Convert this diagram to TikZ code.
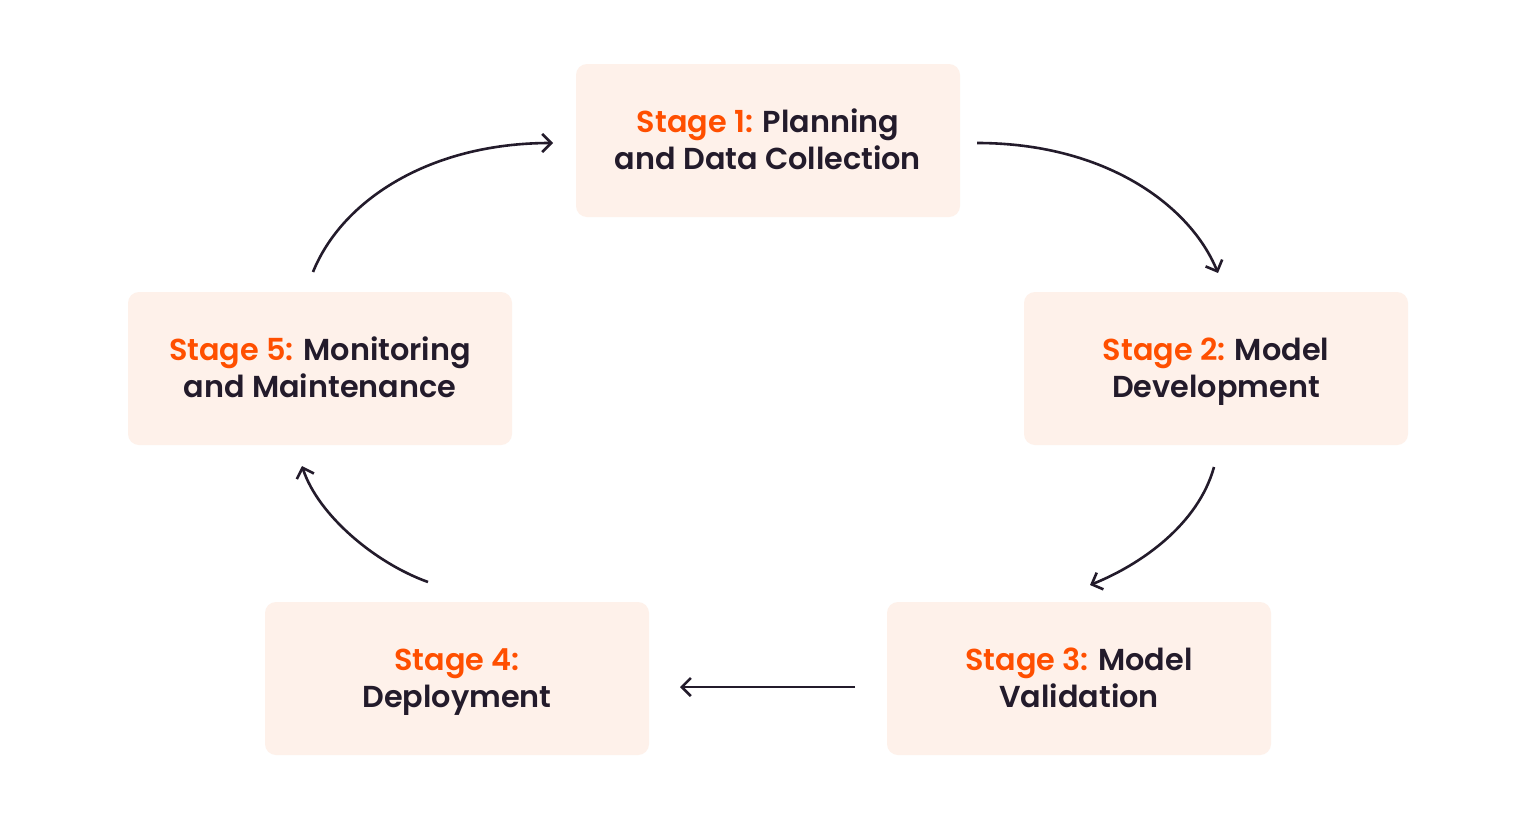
\documentclass[tikz,border=0pt]{standalone}
\usepackage{fontspec}
\setmainfont{Poppins}[UprightFont=* SemiBold]
\usetikzlibrary{arrows.meta}
\definecolor{boxfill}{HTML}{FEF1EA}
\definecolor{stageor}{HTML}{FF4F00}
\definecolor{inkdark}{HTML}{231B2B}
\tikzset{
  stagebox/.style={fill=boxfill, draw=none, rounded corners=11pt, minimum width=384pt, minimum height=153pt},
  stagetext/.style={align=center, text=inkdark, font=\fontsize{30.3}{37}\selectfont, inner sep=0pt, yshift=-3.5pt},
  flow/.style={draw=inkdark, line width=2.6pt, -{Straight Barb[length=9pt,width=18pt,line width=2.6pt]}}
}
\newcommand{\stg}[1]{\textcolor{stageor}{#1}}
\newcommand{\twol}[2]{\strut #1\\\strut #2}
\begin{document}
\begin{tikzpicture}[x=1pt,y=-1pt]
\fill[white] (0,0) rectangle (1536,817);
\useasboundingbox (0,0) rectangle (1536,817);
\node[stagebox] (s1) at (768,140.5) {};
\node[stagebox] (s2) at (1216,368.5) {};
\node[stagebox] (s3) at (1079,678.5) {};
\node[stagebox] (s4) at (457,678.5) {};
\node[stagebox] (s5) at (320,368.5) {};
\node[stagetext] (t1) at (s1.center) {\twol{\stg{Stage 1:} Planning}{and Data Collection}};
\node[stagetext] (t2) at (s2.center) {\twol{\stg{Stage 2:} Model}{Development}};
\node[stagetext] (t3) at (s3.center) {\twol{\stg{Stage 3:} Model}{Validation}};
\node[stagetext] (t4) at (s4.center) {\twol{\stg{Stage 4:}}{Deployment}};
\node[stagetext] (t5) at (s5.center) {\twol{\stg{Stage 5:} Monitoring}{and Maintenance}};
\coordinate (a1s) at (977,143); \coordinate (a1e) at (1218,273);
\coordinate (a2s) at (1214,467); \coordinate (a2e) at (1090,585);
\coordinate (a3s) at (855,687); \coordinate (a3e) at (680,687);
\coordinate (a4s) at (428,582); \coordinate (a4e) at (302,466);
\coordinate (a5s) at (313,272); \coordinate (a5e) at (553,143);
\draw[flow] (a1s) .. controls (1105,143) and (1190,205) .. (a1e);
\draw[flow] (a2s) .. controls (1198,525) and (1140,565) .. (a2e);
\draw[flow] (a3s) -- (a3e);
\draw[flow] (a4s) .. controls (375,563) and (318,515) .. (a4e);
\draw[flow] (a5s) .. controls (342,200) and (430,143) .. (a5e);
\end{tikzpicture}
\end{document}
